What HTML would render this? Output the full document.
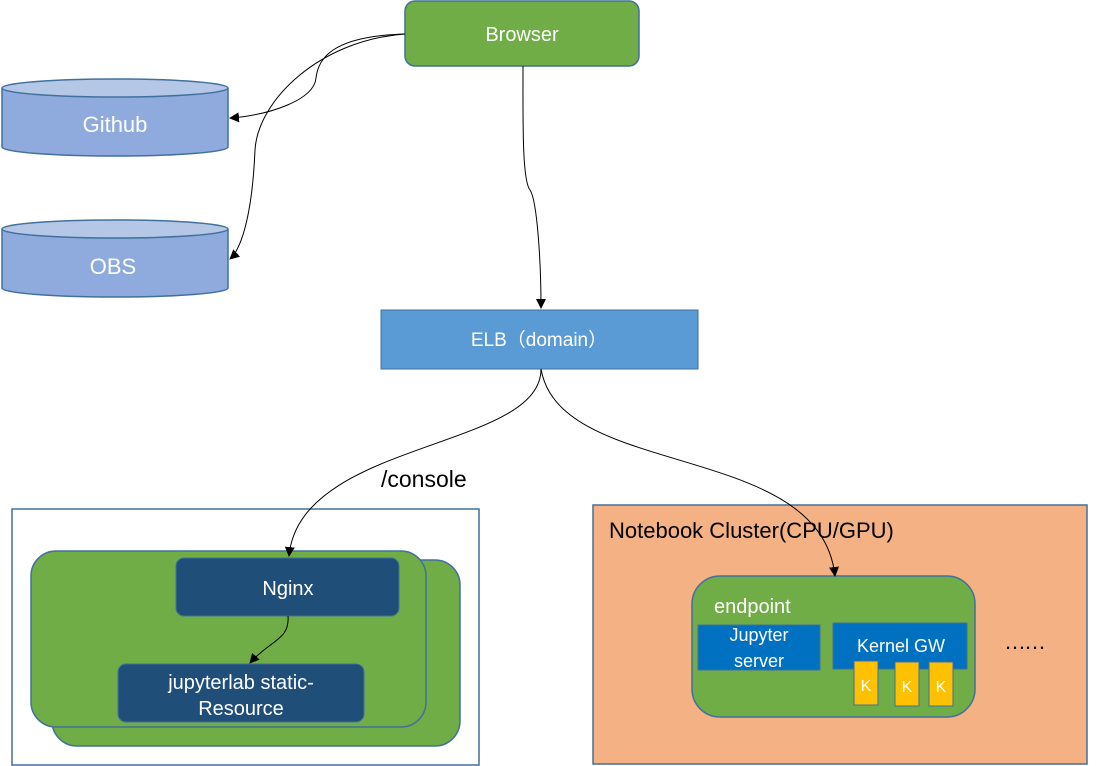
<!DOCTYPE html>
<html><head><style>body{margin:0;background:#fff}svg{display:block}text{font-family:"Liberation Sans",sans-serif}</style></head><body>
<svg width="1106" height="766" viewBox="0 0 1106 766" xmlns="http://www.w3.org/2000/svg">
<defs><marker id="a" markerWidth="10" markerHeight="10" refX="9" refY="5" orient="auto" markerUnits="userSpaceOnUse"><path d="M0,0L10,5L0,10z" fill="#000"/></marker></defs>
<rect x="405" y="1" width="234" height="65" rx="10" fill="#70AD47" stroke="#41719C" stroke-width="1.5"/>
<text x="522" y="41" fill="#fff" font-size="20" text-anchor="middle">Browser</text>
<g fill="#8FAADC" stroke="#41719C" stroke-width="1.5">
<path d="M2,88 V147 A113,9 0 0 0 228,147 V88"/><ellipse cx="115" cy="88" rx="113" ry="9" fill="#B4C7E7"/>
<path d="M2,229 V288 A113,9 0 0 0 228,288 V229"/><ellipse cx="115" cy="229" rx="113" ry="9" fill="#B4C7E7"/>
</g>
<text x="115" y="132" fill="#fff" font-size="22" text-anchor="middle">Github</text>
<text x="113" y="274" fill="#fff" font-size="22" text-anchor="middle">OBS</text>
<rect x="381" y="310" width="317" height="59" fill="#5B9BD5" stroke="#41719C"/>
<text x="539" y="346" fill="#fff" font-size="19" text-anchor="middle">ELB（domain）</text>
<text x="381" y="487" fill="#000" font-size="23">/console</text>
<rect x="12" y="509" width="467" height="256" fill="#fff" stroke="#41719C" stroke-width="1.5"/>
<rect x="52" y="560" width="408" height="186" rx="25" fill="#70AD47" stroke="#41719C" stroke-width="1.5"/>
<rect x="31" y="551" width="395" height="176" rx="25" fill="#70AD47" stroke="#41719C" stroke-width="1.5"/>
<rect x="176" y="558" width="223" height="58" rx="8" fill="#1F4E79" stroke="#41719C"/>
<text x="288" y="595" fill="#fff" font-size="20" text-anchor="middle">Nginx</text>
<rect x="118" y="664" width="246" height="58" rx="8" fill="#1F4E79" stroke="#41719C"/>
<text x="241" y="689" fill="#fff" font-size="20" text-anchor="middle">jupyterlab static-</text>
<text x="241" y="715" fill="#fff" font-size="20" text-anchor="middle">Resource</text>
<rect x="593" y="505" width="494" height="259" fill="#F4B183" stroke="#41719C" stroke-width="1.5"/>
<text x="609" y="538" fill="#000" font-size="22">Notebook Cluster(CPU/GPU)</text>
<rect x="692" y="576" width="283" height="141" rx="28" fill="#70AD47" stroke="#41719C" stroke-width="1.5"/>
<text x="714" y="613" fill="#fff" font-size="20">endpoint</text>
<rect x="698" y="625" width="122" height="45" fill="#0070C0" stroke="#41719C"/>
<text x="759" y="641" fill="#fff" font-size="18" text-anchor="middle">Jupyter</text>
<text x="759" y="667" fill="#fff" font-size="18" text-anchor="middle">server</text>
<rect x="833" y="623" width="134" height="46" fill="#0070C0" stroke="#41719C"/>
<text x="901" y="652" fill="#fff" font-size="18" text-anchor="middle">Kernel GW</text>
<g fill="#FFC000" stroke="#41719C"><rect x="854" y="661" width="24" height="44"/><rect x="895" y="662" width="24" height="44"/><rect x="929" y="662" width="24" height="44"/></g>
<g fill="#fff" font-size="16" text-anchor="middle"><text x="866" y="691">K</text><text x="907" y="692">K</text><text x="941" y="692">K</text></g>
<text x="1004" y="649" fill="#000" font-size="22" letter-spacing="-2">……</text>
<g fill="none" stroke="#000" stroke-width="1">
<path d="M405,34 C330,36 318,60 316,78 C314,100 270,115 230,118" marker-end="url(#a)"/>
<path d="M405,34 C320,40 258,100 255,150 C252,220 240,250 230,259" marker-end="url(#a)"/>
<path d="M523,66 C523,120 522,180 530,190 C537,200 541,260 541,308" marker-end="url(#a)"/>
<path d="M541,369 C541,450 300,440 289,556" marker-end="url(#a)"/>
<path d="M541,369 C560,480 820,440 835,576" marker-end="url(#a)"/>
<path d="M288,616 C290,640 270,640 250,663" marker-end="url(#a)"/>
</g>
</svg>
</body></html>
